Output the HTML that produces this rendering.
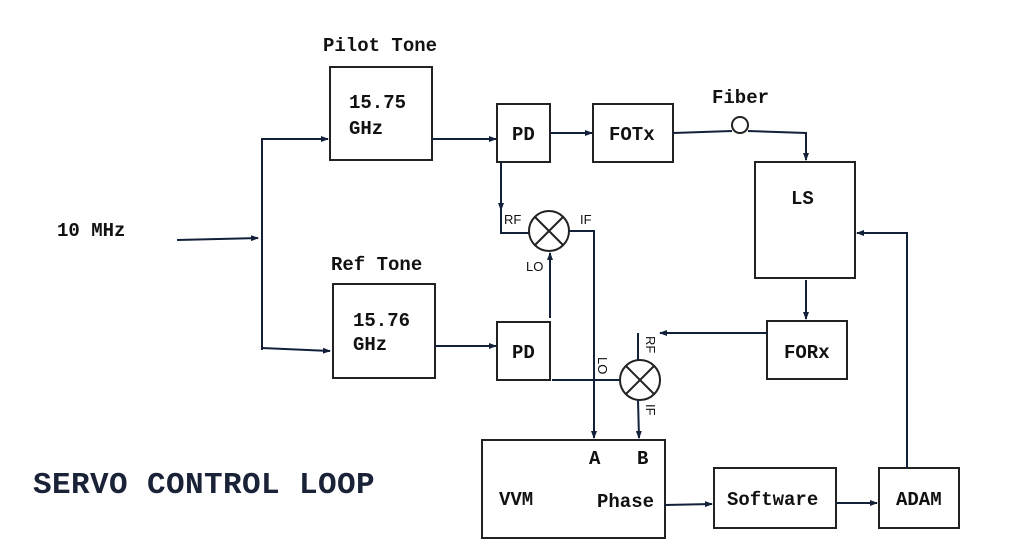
<!DOCTYPE html>
<html><head><style>html,body{margin:0;padding:0;background:#fff}svg{display:block}
text{font-family:"Liberation Mono",monospace;fill:#111;font-weight:bold}
text.s{font-family:"Liberation Sans",sans-serif;font-weight:normal}</style></head><body>
<svg width="1014" height="558" viewBox="0 0 1014 558" xmlns="http://www.w3.org/2000/svg">
<defs><marker id="a" markerWidth="8" markerHeight="8" refX="7" refY="4" orient="auto" markerUnits="userSpaceOnUse"><path d="M0,1 L8,4 L0,7 z" fill="#12203a"/></marker></defs>
<g fill="none" stroke="#222" stroke-width="2">
<rect x="330" y="67" width="102" height="93"/>
<rect x="333" y="284" width="102" height="94"/>
<rect x="497" y="104" width="53" height="58"/>
<rect x="593" y="104" width="80" height="58"/>
<rect x="755" y="162" width="100" height="116"/>
<rect x="497" y="322" width="53" height="58"/>
<rect x="767" y="321" width="80" height="58"/>
<rect x="482" y="440" width="183" height="98"/>
<rect x="714" y="468" width="122" height="60"/>
<rect x="879" y="468" width="80" height="60"/>
<circle cx="740" cy="125" r="8"/>
<circle cx="549" cy="231" r="20"/><path d="M535,217 L563,245 M563,217 L535,245"/>
<circle cx="640" cy="380" r="20"/><path d="M626,366 L654,394 M654,366 L626,394"/>
</g>
<g fill="none" stroke="#12203a" stroke-width="2">
<path d="M177,240 L258,238" marker-end="url(#a)"/>
<path d="M262,350 L262,139 L328,139" marker-end="url(#a)"/>
<path d="M262,348 L330,351" marker-end="url(#a)"/>
<path d="M432,139 L496,139" marker-end="url(#a)"/>
<path d="M550,133 L592,133" marker-end="url(#a)"/>
<path d="M673,133 L732,131 M748,131 L806,133 L806,160" marker-end="url(#a)"/>
<path d="M501,162 L501,210"  marker-end="url(#a)"/>
<path d="M501,205 L501,233 L529,233" />
<path d="M569,231 L594,231 L594,438" marker-end="url(#a)"/>
<path d="M550,318 L550,253" marker-end="url(#a)"/>
<path d="M435,346 L496,346" marker-end="url(#a)"/>
<path d="M552,380 L620,380"/>
<path d="M767,333 L660,333" marker-end="url(#a)"/>
<path d="M638,333 L638,360"/>
<path d="M638,400 L639,438" marker-end="url(#a)"/>
<path d="M806,280 L806,319" marker-end="url(#a)"/>
<path d="M665,505 L712,504" marker-end="url(#a)"/>
<path d="M836,503 L877,503" marker-end="url(#a)"/>
<path d="M907,468 L907,233 L857,233" marker-end="url(#a)"/>
</g>
<g font-size="19">
<text x="323" y="51">Pilot Tone</text>
<text x="331" y="270">Ref Tone</text>
<text x="712" y="103">Fiber</text>
<text x="57" y="236">10 MHz</text>
<text x="349" y="108">15.75</text><text x="349" y="134">GHz</text>
<text x="353" y="326">15.76</text><text x="353" y="350">GHz</text>
<text x="512" y="140">PD</text>
<text x="512" y="358">PD</text>
<text x="609" y="140">FOTx</text>
<text x="791" y="204">LS</text>
<text x="784" y="358">FORx</text>
<text x="499" y="505">VVM</text>
<text x="597" y="507">Phase</text>
<text x="589" y="464">A</text>
<text x="637" y="464">B</text>
<text x="727" y="505">Software</text>
<text x="896" y="505">ADAM</text>
</g>
<g font-size="13">
<text class="s" x="504" y="224">RF</text>
<text class="s" x="580" y="224">IF</text>
<text class="s" x="526" y="271">LO</text>
<text class="s" transform="translate(646,336) rotate(90)">RF</text>
<text class="s" transform="translate(646,404) rotate(90)">IF</text>
<text class="s" transform="translate(598,357) rotate(90)">LO</text>
</g>
<text x="33" y="493" font-size="31" letter-spacing="0.4" style="fill:#1a2238">SERVO CONTROL LOOP</text>
</svg>
</body></html>
